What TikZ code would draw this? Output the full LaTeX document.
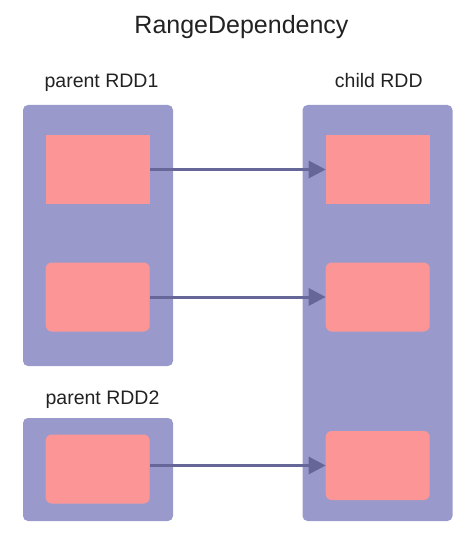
\documentclass[tikz,border=0pt]{standalone}
\usepackage{fontspec}
\setmainfont{Liberation Sans}
\usetikzlibrary{arrows.meta}
\definecolor{boxpurple}{HTML}{9999CC}
\definecolor{cellpink}{HTML}{FC9696}
\definecolor{arrowcol}{HTML}{666699}
\definecolor{txt}{HTML}{222222}
\begin{document}
\begin{tikzpicture}[x=1pt,y=-1pt,
  container/.style={fill=boxpurple, draw=none, rounded corners=5pt, inner sep=0pt, outer sep=0pt},
  cell/.style={fill=cellpink, draw=none, inner sep=0pt, outer sep=0pt, minimum width=104pt, minimum height=69pt},
  roundcell/.style={cell, rounded corners=6pt},
  link/.style={draw=arrowcol, line width=3pt, -{Triangle[length=17pt,width=17pt]}},
  label/.style={text=txt, inner sep=0pt, anchor=base, font=\fontsize{19.5}{22}\selectfont},
  title/.style={text=txt, inner sep=0pt, anchor=base, font=\fontsize{25}{28}\selectfont}]
\useasboundingbox (0,0) rectangle (474,540);
\node[title] (t) at (241.5,33.3) {RangeDependency};
\node[label] (l1) at (101.5,87.3) {parent RDD1};
\node[label] (l2) at (378.8,87.3) {child RDD};
\node[label] (l3) at (102.5,404.3) {parent RDD2};
% containers
\node[container, minimum width=150pt, minimum height=261pt] (p1) at (98,235.5) {};
\node[container, minimum width=150pt, minimum height=103pt] (p2) at (98,469.5) {};
\node[container, minimum width=150pt, minimum height=416pt] (c) at (377.5,313) {};
% cells
\node[cell] (a1) at (97.7,169.5) {};
\node[roundcell] (a2) at (97.7,297) {};
\node[roundcell] (b1) at (97.7,469) {};
\node[cell] (c1) at (377.7,169.5) {};
\node[roundcell] (c2) at (377.7,297) {};
\node[roundcell] (c3) at (377.7,465.5) {};
% links
\draw[link] (a1.east) -- (c1.west);
\draw[link] (a2.east) -- (c2.west);
\draw[link] (b1.east |- c3.west) -- (c3.west);
\end{tikzpicture}
\end{document}
